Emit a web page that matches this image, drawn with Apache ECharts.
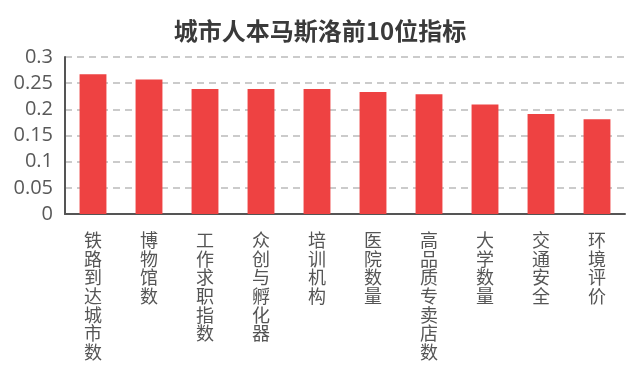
<!DOCTYPE html>
<html><head><meta charset="utf-8">
<script src="https://cdn.jsdelivr.net/npm/echarts@6/dist/echarts.min.js"></script>
<style>html,body{margin:0;padding:0;background:#fff}#c{width:640px;height:375px}</style>
</head><body><div id="c"></div>
<script>
const titleText = '城市人本马斯洛前10位指标';
const categories = ['铁路到达城市数','博物馆数','工作求职指数','众创与孵化器','培训机构','医院数量','高品质专卖店数','大学数量','交通安全','环境评价'];
const values = [0.267, 0.257, 0.239, 0.239, 0.239, 0.233, 0.229, 0.209, 0.191, 0.181];
const yTicks = [0, 0.05, 0.1, 0.15, 0.2, 0.25, 0.3];

const chart = echarts.init(document.getElementById('c'));
chart.setOption({
  animation: false,
  title: {text: titleText, left: 'center', top: 14,
    textStyle: {fontFamily: 'Noto Sans CJK SC', fontSize: 24, fontWeight: 'bold', color: '#3a3a3a'}},
  grid: {left: 65, right: 15, top: 57, bottom: 161, containLabel: false},
  xAxis: {type: 'category', data: categories,
    axisLine: {lineStyle: {color: '#555', width: 2}},
    axisTick: {show: false},
    axisLabel: {interval: 0, margin: 17, fontFamily: 'Noto Sans CJK SC', fontSize: 18, lineHeight: 18.6,
      color: '#555', verticalAlign: 'top',
      formatter: v => v.split('').join('\n')}},
  yAxis: {type: 'value', min: yTicks[0], max: yTicks[yTicks.length-1], interval: 0.05,
    axisLine: {show: true, lineStyle: {color: '#555', width: 2}},
    axisTick: {show: false},
    axisLabel: {fontFamily: 'Open Sans', fontSize: 20, color: '#595959', margin: 12,
      formatter: v => String(+v.toFixed(2))},
    splitLine: {lineStyle: {color: '#bbb', type: [7, 5], width: 1.5}}},
  series: [{type: 'bar', data: values, barWidth: '48%',
    itemStyle: {color: '#EE4242'}}]
});
</script></body></html>
